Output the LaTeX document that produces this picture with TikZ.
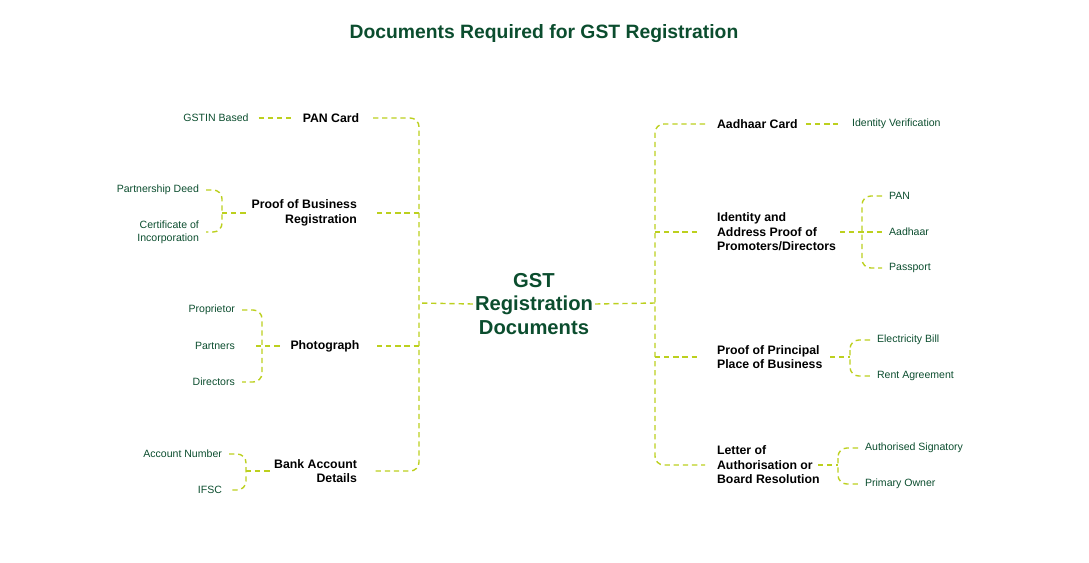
\documentclass[tikz,border=0pt]{standalone}
\usepackage{fontspec}
\setmainfont{Liberation Sans}
\usetikzlibrary{positioning}
\definecolor{deepgreen}{HTML}{0B4D2E}
\definecolor{lime}{HTML}{BCD01E}
\tikzstyle{head} = [font=\fontsize{11}{13}\selectfont\bfseries, text=deepgreen, align=center, inner sep=1pt]
\tikzstyle{doc} = [font=\fontsize{7}{8.2}\selectfont\bfseries, inner sep=1pt]
\tikzstyle{leaf} = [font=\fontsize{6}{7.2}\selectfont, text=deepgreen, inner sep=1pt]
\tikzstyle{link} = [draw=lime, line width=0.8pt, dash pattern=on 3pt off 2.2pt, rounded corners=5pt]
\tikzstyle{support} = [coordinate]

\begin{document}
\begin{tikzpicture}[x=0.02cm,y=-0.02cm]
\useasboundingbox (0,0) rectangle (1089,562);
\node [head] (title) at (544,34) {Documents Required for GST Registration};
\node [head, font=\fontsize{11.5}{13.5}\selectfont\bfseries] (gst) at (534,304) {GST\\Registration\\Documents};

% left side
\node [doc] (pan) at (331,118) {PAN Card};
\node [doc, align=right, anchor=east] (pobr) at (359,213) {Proof of Business\\Registration};
\node [doc] (photo) at (325,346) {Photograph};
\node [doc, align=right, anchor=east] (bank) at (359,471) {Bank Account\\Details};
\node [leaf] (gstin) at (216,118) {GSTIN Based};
\node [leaf, anchor=east] (deed) at (201,190) {Partnership Deed};
\node [leaf, anchor=east, align=right] (coi) at (201,232) {Certificate of\\Incorporation};
\node [leaf, anchor=east] (prop) at (237,310) {Proprietor};
\node [leaf, anchor=east] (partn) at (237,346) {Partners};
\node [leaf, anchor=east] (dir) at (237,382) {Directors};
\node [leaf, anchor=east] (accno) at (224,454) {Account Number};
\node [leaf, anchor=east] (ifsc) at (224,490) {IFSC};

% right side
\node [doc, anchor=west] (aadh) at (715,124) {Aadhaar Card};
\node [doc, anchor=west, align=left] (idp) at (715,232) {Identity and\\Address Proof of\\Promoters/Directors};
\node [doc, anchor=west, align=left] (ppob) at (715,357) {Proof of Principal\\Place of Business};
\node [doc, anchor=west, align=left] (loa) at (715,465) {Letter of\\Authorisation or\\Board Resolution};
\node [leaf, anchor=west] (idv) at (850,124) {Identity Verification};
\node [leaf, anchor=west] (lpan) at (887,196) {PAN};
\node [leaf, anchor=west] (laadh) at (887,232) {Aadhaar};
\node [leaf, anchor=west] (pass) at (887,268) {Passport};
\node [leaf, anchor=west] (elec) at (875,340) {Electricity Bill};
\node [leaf, anchor=west] (rent) at (875,376) {Rent Agreement};
\node [leaf, anchor=west] (auth) at (863,448) {Authorised Signatory};
\node [leaf, anchor=west] (prim) at (863,484) {Primary Owner};

\node [support] (ltrunk) at (419,303) {};
\node [support] (rtrunk) at (655,303) {};

% trunks
\draw [link] (gst.west) -- (ltrunk);
\draw [link] (373,118) -| (ltrunk) |- (373,471);
\draw [link] (377,213) -- (419,213);
\draw [link] (377,346) -- (419,346);
\draw [link] (gst.east) -- (rtrunk);
\draw [link] (705,124) -| (rtrunk) |- (705,465);
\draw [link] (655,232) -- (700,232);
\draw [link] (655,357) -- (700,357);

% left leaves
\draw [link] (gstin.east)++(8,0) -- (295,118);
\draw [link] (206,190) -| (222,211) |- (206,232);
\draw [link] (222,213) -- (246,213);
\draw [link] (242,310) -| (262,346) |- (242,382);
\draw [link] (256,346) -- (282,346);
\draw [link] (229,454) -| (246,471) |- (229,490);
\draw [link] (246,471) -- (270,471);

% right leaves
\draw [link] (806,124) -- (838,124);
\draw [link] (882,196) -| (862,232) |- (882,268);
\draw [link] (840,232) -- (882,232);
\draw [link] (870,340) -| (850,357) |- (870,376);
\draw [link] (830,357) -- (850,357);
\draw [link] (858,448) -| (838,465) |- (858,484);
\draw [link] (818,465) -- (838,465);
\end{tikzpicture}
\end{document}
